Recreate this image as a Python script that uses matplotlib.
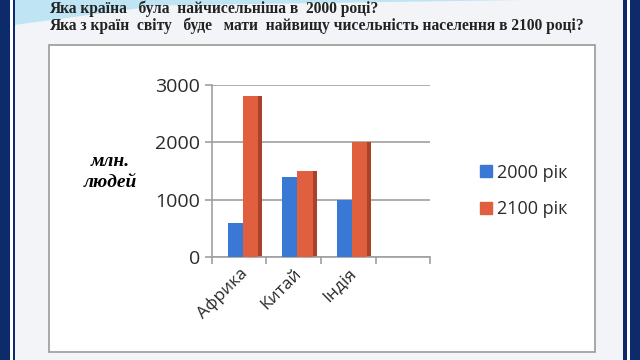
import matplotlib
matplotlib.use('Agg')
import matplotlib.pyplot as plt
from matplotlib.patches import Rectangle, Polygon
from matplotlib.lines import Line2D
import numpy as np

countries = ['Африка', 'Китай', 'Індія']
pop_2000 = [600, 1400, 1000]
pop_2100 = [2800, 1500, 2000]
series_names = ['2000 рік', '2100 рік']
y_ticks = [0, 1000, 2000, 3000]

blue = '#3a78d6'
blue_side = '#2a5aa8'
red = '#df5f3e'
red_side = '#a8432a'

plt.rcParams['font.family'] = ['Open Sans', 'DejaVu Sans']

fig = plt.figure(figsize=(6.4, 3.6), dpi=100)
fig.patch.set_facecolor('#f3f4f7')

# slide decoration: swoosh, borders, white chart box
fig.patches.append(Polygon([[0.02, 1.0], [0.02, 0.93], [0.25, 0.985], [0.82, 1.0]],
                           closed=True, transform=fig.transFigure,
                           facecolor='#bfe4f4', edgecolor='none', zorder=0))
for x0, w, c in [(0, 0.016, '#0d2a6b'), (0.016, 0.004, 'white'), (0.020, 0.004, '#0d2a6b'),
                 (0.973, 0.006, '#0d2a6b'), (0.979, 0.005, 'white'), (0.984, 0.016, '#0d2a6b')]:
    fig.patches.append(Rectangle((x0, 0), w, 1, transform=fig.transFigure,
                                 facecolor=c, edgecolor='none', zorder=1))
fig.patches.append(Rectangle((0.076, 0.022), 0.854, 0.853, transform=fig.transFigure,
                             facecolor='white', edgecolor='#9a9a9a', lw=1.2, zorder=1))

fig.text(0.076, 0.998, 'Яка країна   була  найчисельніша в  2000 році?',
         family='Liberation Serif', weight='bold', fontsize=11.2, va='top', color='#222222')
fig.text(0.076, 0.928, 'Яка з країн  світу   буде   мати  найвищу чисельність населення в 2100 році?',
         family='Liberation Serif', weight='bold', fontsize=11.2, va='center', color='#222222')

ax = fig.add_axes([0.331, 0.286, 0.341, 0.478])
ax.set_zorder(3)
ax.set_facecolor('none')
x = np.arange(len(countries))
w = 0.28
ax.bar(x - 0.07, pop_2000, w, color=blue, zorder=3)
ax.bar(x - 0.07 + w / 2 + 0.035, pop_2000, 0.07, color=blue_side, zorder=2)
ax.bar(x + 0.21, pop_2100, w, color=red, zorder=3)
ax.bar(x + 0.21 + w / 2 + 0.035, pop_2100, 0.07, color=red_side, zorder=2)

ax.set_xlim(-0.5, 3.5)
ax.set_ylim(0, 3000)
ax.set_yticks(y_ticks)
ax.yaxis.grid(True, color='#a0a0a0', lw=1.2)
ax.set_axisbelow(True)
ax.set_xticks(x)
ax.set_xticklabels(countries, rotation=45, ha='right', rotation_mode='anchor',
                   fontsize=12.5, color='#2b2b2b')
ax.tick_params(axis='x', length=0, pad=6)
ax.set_xticks(np.arange(-0.5, 4.0, 1.0), minor=True)
ax.tick_params(axis='x', which='minor', length=5, color='#a0a0a0', width=1.2)
ax.tick_params(axis='y', labelsize=14, labelcolor='#2b2b2b', length=5, color='#a0a0a0', width=1.2)
for s in ['top', 'right']:
    ax.spines[s].set_visible(False)
for s in ['left', 'bottom']:
    ax.spines[s].set_color('#a0a0a0')
    ax.spines[s].set_linewidth(1.2)

fig.text(0.172, 0.522, 'млн.\nлюдей', family='Liberation Serif', weight='bold',
         style='italic', fontsize=14, ha='center', va='center', linespacing=1.3, zorder=3)

handles = [Line2D([], [], marker='s', ls='none', color=c, markersize=8) for c in [blue, red]]
leg = fig.legend(handles, series_names, loc='center left', bbox_to_anchor=(0.72, 0.47),
                 frameon=False, fontsize=13, handletextpad=0.1, labelspacing=1.0,
                 labelcolor='#2b2b2b', handlelength=1.0)
leg.set_zorder(3)

fig.savefig('out.png', dpi=100, facecolor=fig.get_facecolor())
